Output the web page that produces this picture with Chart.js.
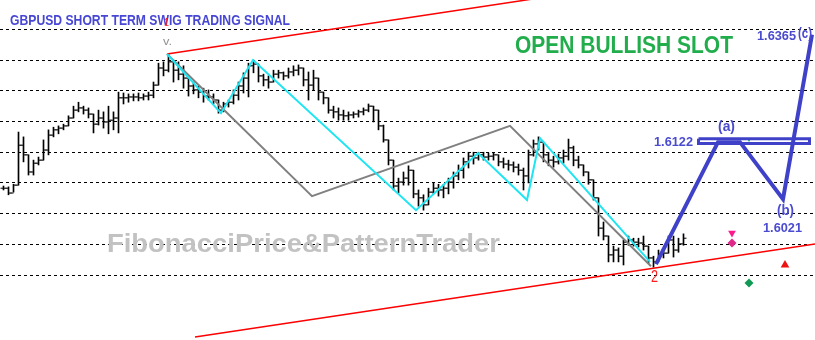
<!DOCTYPE html>
<html>
<head>
<meta charset="utf-8">
<script src="https://cdn.jsdelivr.net/npm/chart.js@4.4.1/dist/chart.umd.min.js"></script>
<style>
  html, body { margin: 0; padding: 0; background: #fff; }
  #wrap { width: 815px; height: 340px; position: relative; }
</style>
</head>
<body>
<div id="wrap"><canvas id="grafico"></canvas></div>
<script>
// Barras GBPUSD (maximo, minimo, cierre); apertura = cierre anterior
const highs = [
  1.6023, 1.6021, 1.6027, 1.6146, 1.6135, 1.6094, 1.6082, 1.6089, 1.6128, 1.6151,
  1.6157, 1.6160, 1.6164, 1.6183, 1.6205, 1.6214, 1.6205, 1.6201, 1.6187, 1.6196,
  1.6192, 1.6205, 1.6192, 1.6237, 1.6235, 1.6233, 1.6233, 1.6235, 1.6233, 1.6237,
  1.6260, 1.6303, 1.6306, 1.6324, 1.6310, 1.6306, 1.6297, 1.6269, 1.6260, 1.6251,
  1.6246, 1.6242, 1.6233, 1.6219, 1.6214, 1.6219, 1.6242, 1.6260, 1.6281, 1.6303,
  1.6310, 1.6301, 1.6278, 1.6274, 1.6287, 1.6287, 1.6283, 1.6292, 1.6297, 1.6299,
  1.6292, 1.6283, 1.6287, 1.6269, 1.6237, 1.6224, 1.6205, 1.6201, 1.6196, 1.6192,
  1.6192, 1.6196, 1.6201, 1.6210, 1.6205, 1.6196, 1.6162, 1.6128, 1.6082, 1.6041,
  1.6055, 1.6069, 1.6059, 1.6014, 1.6003, 1.6018, 1.6030, 1.6027, 1.6027, 1.6041,
  1.6055, 1.6071, 1.6087, 1.6100, 1.6100, 1.6100, 1.6100, 1.6098, 1.6098, 1.6094,
  1.6087, 1.6082, 1.6078, 1.6073, 1.6064, 1.6105, 1.6128, 1.6135, 1.6123, 1.6100,
  1.6091, 1.6096, 1.6105, 1.6130, 1.6114, 1.6091, 1.6071, 1.6055, 1.6037, 1.5996,
  1.5941, 1.5909, 1.5886, 1.5882, 1.5900, 1.5909, 1.5904, 1.5904, 1.5909, 1.5886,
  1.5863, 1.5877, 1.5877, 1.5909, 1.5909, 1.5904, 1.5914
];
const lows = [
  1.6014, 1.6003, 1.6009, 1.6025, 1.6078, 1.6048, 1.6048, 1.6071, 1.6082, 1.6094,
  1.6135, 1.6142, 1.6151, 1.6160, 1.6178, 1.6192, 1.6187, 1.6178, 1.6144, 1.6162,
  1.6155, 1.6142, 1.6151, 1.6144, 1.6210, 1.6214, 1.6217, 1.6217, 1.6219, 1.6219,
  1.6224, 1.6253, 1.6274, 1.6283, 1.6260, 1.6265, 1.6246, 1.6228, 1.6233, 1.6224,
  1.6214, 1.6219, 1.6210, 1.6189, 1.6192, 1.6203, 1.6210, 1.6219, 1.6235, 1.6226,
  1.6281, 1.6260, 1.6251, 1.6246, 1.6260, 1.6269, 1.6265, 1.6269, 1.6274, 1.6276,
  1.6251, 1.6219, 1.6242, 1.6219, 1.6210, 1.6189, 1.6178, 1.6173, 1.6173, 1.6173,
  1.6178, 1.6180, 1.6185, 1.6192, 1.6169, 1.6151, 1.6123, 1.6071, 1.6014, 1.6007,
  1.6025, 1.6025, 1.5996, 1.5977, 1.5968, 1.5980, 1.6005, 1.6000, 1.5996, 1.6005,
  1.6018, 1.6037, 1.6041, 1.6064, 1.6073, 1.6082, 1.6082, 1.6082, 1.6082, 1.6069,
  1.6064, 1.6059, 1.6055, 1.6048, 1.6014, 1.6030, 1.6091, 1.6105, 1.6078, 1.6069,
  1.6066, 1.6073, 1.6075, 1.6082, 1.6069, 1.6064, 1.6046, 1.6027, 1.5991, 1.5909,
  1.5900, 1.5850, 1.5850, 1.5850, 1.5843, 1.5888, 1.5886, 1.5884, 1.5877, 1.5847,
  1.5838, 1.5850, 1.5859, 1.5870, 1.5861, 1.5872, 1.5888
];
const closes = [
  1.6018, 1.6007, 1.6025, 1.6116, 1.6094, 1.6055, 1.6075, 1.6082, 1.6105, 1.6139,
  1.6151, 1.6155, 1.6160, 1.6178, 1.6196, 1.6201, 1.6196, 1.6187, 1.6164, 1.6178,
  1.6169, 1.6173, 1.6178, 1.6224, 1.6224, 1.6226, 1.6226, 1.6224, 1.6228, 1.6230,
  1.6253, 1.6292, 1.6287, 1.6306, 1.6287, 1.6278, 1.6269, 1.6251, 1.6242, 1.6237,
  1.6228, 1.6226, 1.6219, 1.6196, 1.6210, 1.6214, 1.6230, 1.6251, 1.6269, 1.6297,
  1.6301, 1.6274, 1.6265, 1.6260, 1.6278, 1.6281, 1.6274, 1.6283, 1.6287, 1.6292,
  1.6265, 1.6253, 1.6269, 1.6237, 1.6224, 1.6196, 1.6192, 1.6185, 1.6183, 1.6185,
  1.6187, 1.6192, 1.6196, 1.6205, 1.6196, 1.6160, 1.6128, 1.6082, 1.6023, 1.6032,
  1.6041, 1.6059, 1.6005, 1.5996, 1.5980, 1.6009, 1.6018, 1.6014, 1.6018, 1.6032,
  1.6046, 1.6059, 1.6078, 1.6091, 1.6087, 1.6094, 1.6089, 1.6091, 1.6094, 1.6078,
  1.6073, 1.6071, 1.6066, 1.6059, 1.6046, 1.6094, 1.6119, 1.6123, 1.6094, 1.6082,
  1.6078, 1.6087, 1.6091, 1.6110, 1.6082, 1.6071, 1.6055, 1.6037, 1.5996, 1.5927,
  1.5909, 1.5866, 1.5877, 1.5863, 1.5895, 1.5900, 1.5895, 1.5893, 1.5886, 1.5859,
  1.5850, 1.5868, 1.5870, 1.5900, 1.5877, 1.5891, 1.5904
];

// Niveles de la rejilla punteada
const gridLevels = [1.6380, 1.6310, 1.6240, 1.6170, 1.6100, 1.6030, 1.5960, 1.5890, 1.5820];

// Ondas y canal: [indice de barra, precio]
const grayZigzag = [[32.7, 1.6324], [61.7, 1.6000], [101.3, 1.6160], [129.5, 1.5840]];
const cyanZigzag = [[32.7, 1.6324], [43.5, 1.6189], [49.9, 1.6310], [82.5, 1.5968],
                    [94.9, 1.6098], [104.7, 1.5991], [107.3, 1.6132], [129.3, 1.5850]];
const blueProjection = [[130.5, 1.5845], [142.9, 1.6123], [147.3, 1.6123], [155.9, 1.5993], [161.7, 1.6368]];
const channelTop = [[32.7, 1.6324], [162.3, 1.6546]];
const channelBottom = [[38.3, 1.5679], [162.3, 1.5891]];
const targetBox = [[139, 1.6131], [161.2, 1.6131], [161.2, 1.6120], [139, 1.6120], [139, 1.6131]];
const signalMarks = [[145.7, 1.5916], [145.7, 1.5893], [156.3, 1.5843], [149.1, 1.5802], [149.1, 1.6129]];

// Etiquetas de la proyeccion
const waveNames = ['(a)', '(b)', '(c)'];
const waveLevels = [1.6122, 1.6021, 1.6365];

const aPuntos = arr => arr.map(([x, y]) => ({ x, y }));

// Texto ajustado a un ancho dado
function textoAjustado(ctx, txt, x, y, size, color, ancho, peso) {
    ctx.save();
    ctx.font = `${peso} ${size}px "Liberation Sans", Arial, sans-serif`;
    const w = ctx.measureText(txt).width;
    const k = ancho ? ancho / w : 1;
    ctx.fillStyle = color;
    ctx.textBaseline = 'alphabetic';
    ctx.textAlign = 'left';
    ctx.translate(x, y);
    ctx.scale(k, 1);
    ctx.fillText(txt, 0, 0);
    ctx.restore();
}

const textosPlugin = {
    id: 'textos',
    afterDatasetsDraw(chart) {
        const ctx = chart.ctx;
        const azul = '#4b4bd0';
        textoAjustado(ctx, 'GBPUSD SHORT TERM SWIG TRADING SIGNAL', 10, 25, 15, '#4747d4', 280, 'bold');
        textoAjustado(ctx, 'OPEN BULLISH SLOT', 515, 53, 23, '#22ad4c', 218, 'bold');
        textoAjustado(ctx, 'FibonacciPrice&PatternTrader', 107, 252, 25, '#c2c2c2', 393, 'bold');
        textoAjustado(ctx, waveLevels[2].toFixed(4), 757, 40, 13, azul, 39, 'bold');
        textoAjustado(ctx, waveNames[2], 798, 38, 14, azul, 14, 'bold');
        textoAjustado(ctx, waveNames[0], 718, 131, 14, azul, 17, 'bold');
        textoAjustado(ctx, waveLevels[0].toFixed(4), 654, 146, 13, azul, 39, 'bold');
        textoAjustado(ctx, waveNames[1], 777, 215, 14, azul, 17, 'bold');
        textoAjustado(ctx, waveLevels[1].toFixed(4), 763, 232, 13, azul, 39, 'bold');
        textoAjustado(ctx, '2', 651, 282, 16, '#ff2020', 7, 'normal');
        textoAjustado(ctx, 'v.', 163, 45, 10, '#909090', 9, 'normal');
        textoAjustado(ctx, '1', 164, 26, 11, '#ff2020', 5, 'normal');
    }
};

const lineaBase = { type: 'line', pointRadius: 0, tension: 0, fill: false };

const datasets = [
    { ...lineaBase, label: 'proyeccion', data: aPuntos(blueProjection), borderColor: '#3f42c8', borderWidth: 4 },
    { ...lineaBase, label: 'objetivo', data: aPuntos(targetBox), borderColor: '#3f42c8', borderWidth: 3 },
    {
        type: 'line', label: 'senales', data: aPuntos(signalMarks), showLine: false,
        pointStyle: ['triangle', 'rectRot', 'triangle', 'rectRot', 'triangle'],
        rotation: [180, 0, 0, 0, 180],
        pointRadius: [4.5, 4.5, 5, 4.5, 2.5],
        pointBackgroundColor: ['#ff1a8c', '#e0288a', '#ee1111', '#129955', '#12aa55'],
        pointBorderWidth: 0
    },
    { ...lineaBase, label: 'cian', data: aPuntos(cyanZigzag), borderColor: '#1ee5f2', borderWidth: 2 },
    { ...lineaBase, label: 'gris', data: aPuntos(grayZigzag), borderColor: '#808080', borderWidth: 2 },
    { ...lineaBase, label: 'canal sup', data: aPuntos(channelTop), borderColor: '#ff0000', borderWidth: 1.5 },
    { ...lineaBase, label: 'canal inf', data: aPuntos(channelBottom), borderColor: '#ff0000', borderWidth: 1.5 },
    {
        type: 'line', label: 'apertura', showLine: false,
        data: closes.map((c, i) => ({ x: i - 0.3, y: i > 0 ? closes[i - 1] : c })),
        pointStyle: 'line', pointRadius: 1.5, pointBorderWidth: 1, pointBorderColor: '#000'
    },
    {
        type: 'line', label: 'cierre', showLine: false,
        data: closes.map((c, i) => ({ x: i + 0.3, y: c })),
        pointStyle: 'line', pointRadius: 1.5, pointBorderWidth: 1, pointBorderColor: '#000'
    },
    {
        type: 'bar', label: 'rango',
        data: highs.map((h, i) => ({ x: i, y: [lows[i], h] })),
        backgroundColor: '#000', borderWidth: 0, barThickness: 1
    }
];

new Chart(document.getElementById('grafico'), {
    type: 'line',
    data: { datasets },
    options: {
        responsive: true,
        maintainAspectRatio: false,
        animation: false,
        layout: { padding: 0, autoPadding: false },
        plugins: { legend: { display: false }, tooltip: { enabled: false } },
        scales: {
            x: { type: 'linear', min: -0.7, max: 162.3, offset: false, display: false },
            y: {
                type: 'linear', min: 1.5672, max: 1.6447, position: 'left',
                afterBuildTicks: axis => { axis.ticks = gridLevels.map(v => ({ value: v })); },
                ticks: { display: false },
                grid: { color: '#000', lineWidth: 1, drawTicks: false },
                border: { display: false, dash: [3, 3] }
            }
        }
    },
    plugins: [textosPlugin]
});
</script>
</body>
</html>
